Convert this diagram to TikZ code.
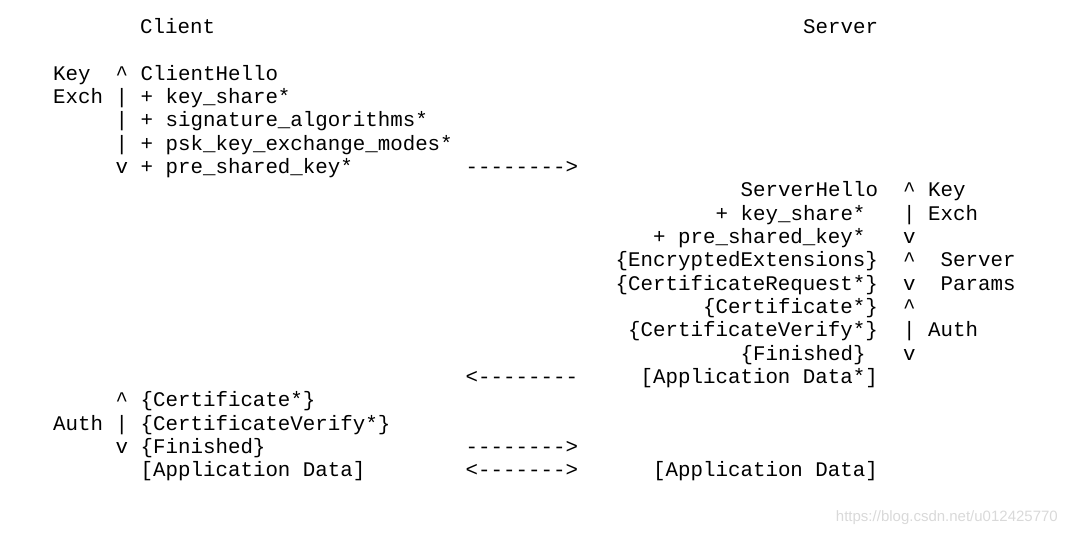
\documentclass[tikz,border=0pt]{standalone}
\usepackage{fontspec}
\setmonofont{Liberation Mono}
\setsansfont{Liberation Sans}
\tikzset{
  msg/.style={anchor=base west, inner sep=0pt, font=\ttfamily\fontsize{20.8pt}{24pt}\selectfont},
  watermark/.style={text=black!15, anchor=base east, inner sep=0pt, font=\sffamily\fontsize{15pt}{18pt}\selectfont}
}
% column / row of the monospaced grid
\newcommand{\at}[2]{({53+12.5*#1}, {-(74+23.35*(#2-1))-6})}
\begin{document}
\begin{tikzpicture}[x=1pt, y=1pt]
  \useasboundingbox (0, 0) rectangle (1067, -533);

  \node[msg] (client) at (140, -33) {Client};
  \node[msg] (server) at (803, -33) {Server};

  % client flight 1
  \node[msg] (keyL)  at \at{0}{1} {Key};
  \node[msg] (exchL) at \at{0}{2} {Exch};
  \node[msg] (bar1)  at \at{5}{1} {\^{}};
  \node[msg] (bar2)  at \at{5}{2} {|};
  \node[msg] (bar3)  at \at{5}{3} {|};
  \node[msg] (bar4)  at \at{5}{4} {|};
  \node[msg] (bar5)  at \at{5}{5} {v};
  \node[msg] (chello) at \at{7}{1} {ClientHello};
  \node[msg] (cks)   at \at{7}{2} {+ key\_share*};
  \node[msg] (csig)  at \at{7}{3} {+ signature\_algorithms*};
  \node[msg] (cpsk)  at \at{7}{4} {+ psk\_key\_exchange\_modes*};
  \node[msg] (cpre)  at \at{7}{5} {+ pre\_shared\_key*};
  \node[msg] (arr1)  at \at{33}{5} {-------->};

  % server flight
  \node[msg] (shello) at \at{55}{6} {ServerHello};
  \node[msg] (sks)    at \at{53}{7} {+ key\_share*};
  \node[msg] (spre)   at \at{48}{8} {+ pre\_shared\_key*};
  \node[msg] (sext)   at \at{45}{9} {\{EncryptedExtensions\}};
  \node[msg] (sreq)   at \at{45}{10} {\{CertificateRequest*\}};
  \node[msg] (scert)  at \at{52}{11} {\{Certificate*\}};
  \node[msg] (sver)   at \at{46}{12} {\{CertificateVerify*\}};
  \node[msg] (sfin)   at \at{55}{13} {\{Finished\}};
  \node[msg] (sapp)   at \at{47}{14} {[Application Data*]};
  \node[msg] (arr2)   at \at{33}{14} {<--------};

  \node[msg] (rm1) at \at{68}{6} {\^{} Key};
  \node[msg] (rm2) at \at{68}{7} {| Exch};
  \node[msg] (rm3) at \at{68}{8} {v};
  \node[msg] (rm4) at \at{68}{9} {\^{}\ \ Server};
  \node[msg] (rm5) at \at{68}{10} {v\ \ Params};
  \node[msg] (rm6) at \at{68}{11} {\^{}};
  \node[msg] (rm7) at \at{68}{12} {| Auth};
  \node[msg] (rm8) at \at{68}{13} {v};

  % client flight 2
  \node[msg] (lm1)   at \at{5}{15} {\^{} \{Certificate*\}};
  \node[msg] (authL) at \at{0}{16} {Auth};
  \node[msg] (lm2)   at \at{5}{16} {| \{CertificateVerify*\}};
  \node[msg] (lm3)   at \at{5}{17} {v \{Finished\}};
  \node[msg] (arr3)  at \at{33}{17} {-------->};
  \node[msg] (capp)  at \at{7}{18} {[Application Data]};
  \node[msg] (arr4)  at \at{33}{18} {<------->};
  \node[msg] (sapp2) at \at{48}{18} {[Application Data]};

  \node[watermark] (url) at (1058, -521) {https://blog.csdn.net/u012425770};
\end{tikzpicture}
\end{document}
